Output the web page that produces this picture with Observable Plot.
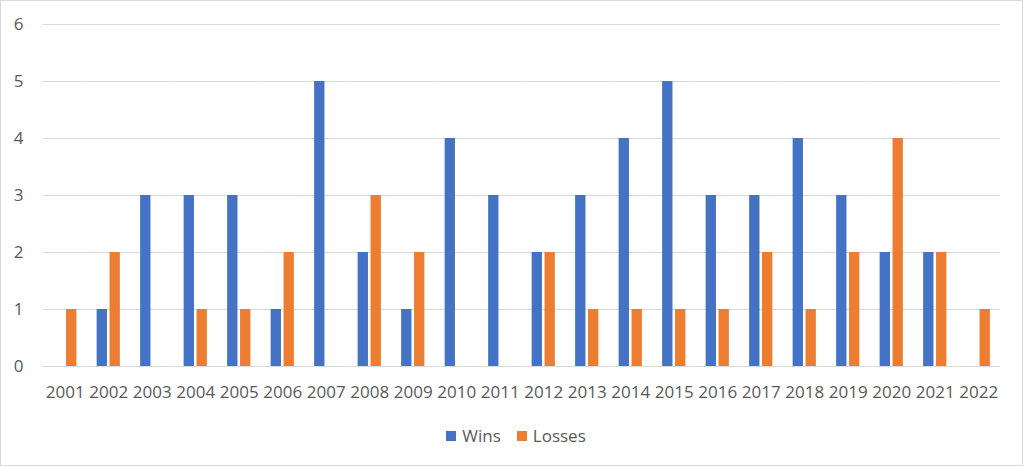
<!DOCTYPE html>
<html>
<head>
<meta charset="utf-8">
<script src="https://cdn.jsdelivr.net/npm/d3@7"></script>
<script src="https://cdn.jsdelivr.net/npm/@observablehq/plot@0.6"></script>
<style>
  html, body { margin: 0; padding: 0; background: #fff; }
  #wrap { position: relative; width: 1024px; height: 467px; overflow: hidden; font-family: "Open Sans", sans-serif; }
  #frame { position: absolute; left: 0; top: 0; width: 1023px; height: 466px; box-sizing: border-box; border: 1px solid #d9d9d9; pointer-events: none; }
  #chart { position: absolute; left: 0; top: 0; }
  #legend { position: absolute; left: 0; width: 1024px; top: 424px; display: flex; justify-content: center; align-items: center; gap: 16px; font-size: 17px; color: #595959; padding-left: 8px; box-sizing: border-box; }
  #legend .item { display: flex; align-items: center; gap: 6px; }
  #legend .sw { width: 10px; height: 10px; display: inline-block; }
</style>
</head>
<body>
<div id="wrap">
  <div id="chart"></div>
  <div id="legend"></div>
  <div id="frame"></div>
</div>
<script>
const years = ["2001","2002","2003","2004","2005","2006","2007","2008","2009","2010","2011","2012","2013","2014","2015","2016","2017","2018","2019","2020","2021","2022"];
const wins = [0,1,3,3,3,1,5,2,1,4,3,2,3,4,5,3,3,4,3,2,2,0];
const losses = [1,2,0,1,1,2,0,3,2,0,0,2,1,1,1,1,2,1,2,4,2,1];
const seriesNames = ["Wins", "Losses"];
const seriesColors = ["#4472C4", "#ED7D31"];
const yTicks = [0,1,2,3,4,5,6];

const rows = [];
years.forEach((y, i) => {
  rows.push({year: y, series: "Wins", value: wins[i]});
  rows.push({year: y, series: "Losses", value: losses[i]});
});

const chart = Plot.plot({
  width: 1024,
  height: 406,
  marginLeft: 43,
  marginRight: 24,
  marginTop: 24,
  marginBottom: 40,
  style: { fontFamily: "Open Sans, sans-serif", fontSize: "17px", color: "#595959", background: "transparent" },
  facet: { data: rows, x: "year" },
  fx: { domain: years, padding: 0, round: false, axis: "bottom", tickSize: 0, tickPadding: 19, label: null },
  x: { domain: seriesNames, axis: null, round: false, paddingInner: 0.2, paddingOuter: 0.785 },
  y: { domain: [0, 6], ticks: yTicks, tickSize: 0, tickPadding: 20, label: null, tickFormat: d3.format("d") },
  color: { domain: seriesNames, range: seriesColors },
  marks: [
    Plot.ruleY(yTicks, { stroke: "#d9d9d9", strokeWidth: 1.2 }),
    Plot.barY(rows, { x: "series", y: "value", fill: "series" })
  ]
});
document.getElementById("chart").appendChild(chart);

const legend = document.getElementById("legend");
seriesNames.forEach((name, i) => {
  const item = document.createElement("span");
  item.className = "item";
  const sw = document.createElement("span");
  sw.className = "sw";
  sw.style.background = seriesColors[i];
  const t = document.createElement("span");
  t.textContent = name;
  item.appendChild(sw);
  item.appendChild(t);
  legend.appendChild(item);
});
</script>
</body>
</html>
